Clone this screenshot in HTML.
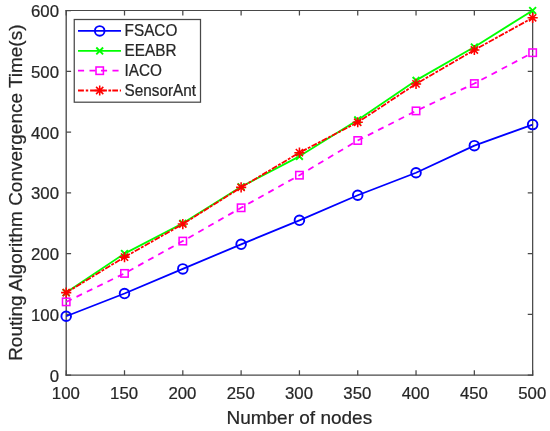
<!DOCTYPE html><html><head><meta charset="utf-8"><title>Routing Algorithm Convergence Time</title>
<style>html,body{margin:0;padding:0;background:#fff}svg{display:block}text{font-family:"Liberation Sans",Arial,Helvetica,sans-serif;fill:#262626;stroke:#262626;stroke-width:0.22px}</style></head><body>
<svg width="550" height="431" viewBox="0 0 550 431">
<rect width="550" height="431" fill="#fff"/>
<path d="M65.54 10.5 H533.27" stroke="#484848" stroke-width="1" fill="none"/>
<path d="M65.54 375.15 H533.27" stroke="#484848" stroke-width="1.35" fill="none"/>
<path d="M66.2 10 V375.82" stroke="#484848" stroke-width="1.33" fill="none"/>
<path d="M532.65 10 V375.82" stroke="#484848" stroke-width="1.25" fill="none"/>
<path d="M66.20 375.15 V370.25 M66.20 10.5 V15.4" stroke="#484848" stroke-width="1.25" fill="none"/>
<text x="65.80" y="399.3" font-size="16.8" text-anchor="middle">100</text>
<path d="M124.51 375.15 V370.25 M124.51 10.5 V15.4" stroke="#484848" stroke-width="1.25" fill="none"/>
<text x="124.11" y="399.3" font-size="16.8" text-anchor="middle">150</text>
<path d="M182.81 375.15 V370.25 M182.81 10.5 V15.4" stroke="#484848" stroke-width="1.25" fill="none"/>
<text x="182.41" y="399.3" font-size="16.8" text-anchor="middle">200</text>
<path d="M241.12 375.15 V370.25 M241.12 10.5 V15.4" stroke="#484848" stroke-width="1.25" fill="none"/>
<text x="240.72" y="399.3" font-size="16.8" text-anchor="middle">250</text>
<path d="M299.43 375.15 V370.25 M299.43 10.5 V15.4" stroke="#484848" stroke-width="1.25" fill="none"/>
<text x="299.03" y="399.3" font-size="16.8" text-anchor="middle">300</text>
<path d="M357.73 375.15 V370.25 M357.73 10.5 V15.4" stroke="#484848" stroke-width="1.25" fill="none"/>
<text x="357.33" y="399.3" font-size="16.8" text-anchor="middle">350</text>
<path d="M416.04 375.15 V370.25 M416.04 10.5 V15.4" stroke="#484848" stroke-width="1.25" fill="none"/>
<text x="415.64" y="399.3" font-size="16.8" text-anchor="middle">400</text>
<path d="M474.34 375.15 V370.25 M474.34 10.5 V15.4" stroke="#484848" stroke-width="1.25" fill="none"/>
<text x="473.94" y="399.3" font-size="16.8" text-anchor="middle">450</text>
<path d="M532.65 375.15 V370.25 M532.65 10.5 V15.4" stroke="#484848" stroke-width="1.25" fill="none"/>
<text x="532.25" y="399.3" font-size="16.8" text-anchor="middle">500</text>
<path d="M66.2 375.15 H71.1 M532.65 375.15 H527.75" stroke="#484848" stroke-width="1.25" fill="none"/>
<text x="59.0" y="381.60" font-size="16.8" text-anchor="end">0</text>
<path d="M66.2 314.38 H71.1 M532.65 314.38 H527.75" stroke="#484848" stroke-width="1.25" fill="none"/>
<text x="59.0" y="320.85" font-size="16.8" text-anchor="end">100</text>
<path d="M66.2 253.60 H71.1 M532.65 253.60 H527.75" stroke="#484848" stroke-width="1.25" fill="none"/>
<text x="59.0" y="260.10" font-size="16.8" text-anchor="end">200</text>
<path d="M66.2 192.82 H71.1 M532.65 192.82 H527.75" stroke="#484848" stroke-width="1.25" fill="none"/>
<text x="59.0" y="199.35" font-size="16.8" text-anchor="end">300</text>
<path d="M66.2 132.05 H71.1 M532.65 132.05 H527.75" stroke="#484848" stroke-width="1.25" fill="none"/>
<text x="59.0" y="138.60" font-size="16.8" text-anchor="end">400</text>
<path d="M66.2 71.27 H71.1 M532.65 71.27 H527.75" stroke="#484848" stroke-width="1.25" fill="none"/>
<text x="59.0" y="77.85" font-size="16.8" text-anchor="end">500</text>
<path d="M66.2 10.50 H71.1 M532.65 10.50 H527.75" stroke="#484848" stroke-width="1.25" fill="none"/>
<text x="59.0" y="17.10" font-size="16.8" text-anchor="end">600</text>
<text x="299.3" y="424.2" font-size="19.0" text-anchor="middle">Number of nodes</text>
<text transform="translate(21.9,192.7) rotate(-90)" font-size="18.98" text-anchor="middle">Routing Algorithm Convergence Time(s)</text>
<polyline points="66.20,316.26 124.51,293.53 182.81,268.92 241.12,244.30 299.43,220.30 357.73,195.26 416.04,172.77 474.34,145.66 532.65,124.57" fill="none" stroke="#0000ff" stroke-width="1.8" stroke-linejoin="round"/>
<circle cx="66.20" cy="316.26" r="4.8" fill="none" stroke="#0000ff" stroke-width="1.9"/>
<circle cx="124.51" cy="293.53" r="4.8" fill="none" stroke="#0000ff" stroke-width="1.9"/>
<circle cx="182.81" cy="268.92" r="4.8" fill="none" stroke="#0000ff" stroke-width="1.9"/>
<circle cx="241.12" cy="244.30" r="4.8" fill="none" stroke="#0000ff" stroke-width="1.9"/>
<circle cx="299.43" cy="220.30" r="4.8" fill="none" stroke="#0000ff" stroke-width="1.9"/>
<circle cx="357.73" cy="195.26" r="4.8" fill="none" stroke="#0000ff" stroke-width="1.9"/>
<circle cx="416.04" cy="172.77" r="4.8" fill="none" stroke="#0000ff" stroke-width="1.9"/>
<circle cx="474.34" cy="145.66" r="4.8" fill="none" stroke="#0000ff" stroke-width="1.9"/>
<circle cx="532.65" cy="124.57" r="4.8" fill="none" stroke="#0000ff" stroke-width="1.9"/>
<polyline points="66.20,292.62 124.51,253.60 182.81,223.21 241.12,186.75 299.43,156.36 357.73,119.90 416.04,80.39 474.34,46.96 532.65,10.50" fill="none" stroke="#00ff00" stroke-width="1.8" stroke-linejoin="round"/>
<path d="M62.80 289.22 l6.8 6.8 M62.80 296.02 l6.8 -6.8" stroke="#00ff00" stroke-width="1.9" fill="none"/>
<path d="M121.11 250.20 l6.8 6.8 M121.11 257.00 l6.8 -6.8" stroke="#00ff00" stroke-width="1.9" fill="none"/>
<path d="M179.41 219.81 l6.8 6.8 M179.41 226.61 l6.8 -6.8" stroke="#00ff00" stroke-width="1.9" fill="none"/>
<path d="M237.72 183.35 l6.8 6.8 M237.72 190.15 l6.8 -6.8" stroke="#00ff00" stroke-width="1.9" fill="none"/>
<path d="M296.03 152.96 l6.8 6.8 M296.03 159.76 l6.8 -6.8" stroke="#00ff00" stroke-width="1.9" fill="none"/>
<path d="M354.33 116.50 l6.8 6.8 M354.33 123.30 l6.8 -6.8" stroke="#00ff00" stroke-width="1.9" fill="none"/>
<path d="M412.64 76.99 l6.8 6.8 M412.64 83.79 l6.8 -6.8" stroke="#00ff00" stroke-width="1.9" fill="none"/>
<path d="M470.94 43.56 l6.8 6.8 M470.94 50.36 l6.8 -6.8" stroke="#00ff00" stroke-width="1.9" fill="none"/>
<path d="M529.25 7.10 l6.8 6.8 M529.25 13.90 l6.8 -6.8" stroke="#00ff00" stroke-width="1.9" fill="none"/>
<polyline points="66.20,301.86 124.51,273.41 182.81,241.08 241.12,207.78 299.43,175.20 357.73,140.50 416.04,110.90 474.34,83.55 532.65,52.68" fill="none" stroke="#ff00ff" stroke-width="1.8" stroke-linejoin="round" stroke-dasharray="6.1 5.39"/>
<rect x="62.50" y="298.16" width="7.4" height="7.4" fill="none" stroke="#ff00ff" stroke-width="1.55"/>
<rect x="120.81" y="269.71" width="7.4" height="7.4" fill="none" stroke="#ff00ff" stroke-width="1.55"/>
<rect x="179.11" y="237.38" width="7.4" height="7.4" fill="none" stroke="#ff00ff" stroke-width="1.55"/>
<rect x="237.42" y="204.08" width="7.4" height="7.4" fill="none" stroke="#ff00ff" stroke-width="1.55"/>
<rect x="295.73" y="171.50" width="7.4" height="7.4" fill="none" stroke="#ff00ff" stroke-width="1.55"/>
<rect x="354.03" y="136.80" width="7.4" height="7.4" fill="none" stroke="#ff00ff" stroke-width="1.55"/>
<rect x="412.34" y="107.20" width="7.4" height="7.4" fill="none" stroke="#ff00ff" stroke-width="1.55"/>
<rect x="470.64" y="79.85" width="7.4" height="7.4" fill="none" stroke="#ff00ff" stroke-width="1.55"/>
<rect x="528.95" y="48.98" width="7.4" height="7.4" fill="none" stroke="#ff00ff" stroke-width="1.55"/>
<polyline points="66.20,292.62 124.51,257.12 182.81,224.06 241.12,187.36 299.43,152.65 357.73,122.27 416.04,83.92 474.34,50.00 532.65,17.79" fill="none" stroke="#ff0000" stroke-width="1.8" stroke-linejoin="round" stroke-dasharray="5.9 1.3 2.9 1.33"/>
<path d="M61.10 292.62 h10.2 M66.20 287.52 v10.2 M62.59 289.01 l7.21242 7.21242 M62.59 296.22 l7.21242 -7.21242" stroke="#ff0000" stroke-width="1.55" fill="none"/>
<path d="M119.41 257.12 h10.2 M124.51 252.02 v10.2 M120.90 253.52 l7.21242 7.21242 M120.90 260.73 l7.21242 -7.21242" stroke="#ff0000" stroke-width="1.55" fill="none"/>
<path d="M177.71 224.06 h10.2 M182.81 218.96 v10.2 M179.21 220.46 l7.21242 7.21242 M179.21 227.67 l7.21242 -7.21242" stroke="#ff0000" stroke-width="1.55" fill="none"/>
<path d="M236.02 187.36 h10.2 M241.12 182.26 v10.2 M237.51 183.75 l7.21242 7.21242 M237.51 190.96 l7.21242 -7.21242" stroke="#ff0000" stroke-width="1.55" fill="none"/>
<path d="M294.32 152.65 h10.2 M299.43 147.55 v10.2 M295.82 149.05 l7.21242 7.21242 M295.82 156.26 l7.21242 -7.21242" stroke="#ff0000" stroke-width="1.55" fill="none"/>
<path d="M352.63 122.27 h10.2 M357.73 117.17 v10.2 M354.13 118.66 l7.21242 7.21242 M354.13 125.87 l7.21242 -7.21242" stroke="#ff0000" stroke-width="1.55" fill="none"/>
<path d="M410.94 83.92 h10.2 M416.04 78.82 v10.2 M412.43 80.31 l7.21242 7.21242 M412.43 87.52 l7.21242 -7.21242" stroke="#ff0000" stroke-width="1.55" fill="none"/>
<path d="M469.24 50.00 h10.2 M474.34 44.90 v10.2 M470.74 46.40 l7.21242 7.21242 M470.74 53.61 l7.21242 -7.21242" stroke="#ff0000" stroke-width="1.55" fill="none"/>
<path d="M527.55 17.79 h10.2 M532.65 12.69 v10.2 M529.04 14.19 l7.21242 7.21242 M529.04 21.40 l7.21242 -7.21242" stroke="#ff0000" stroke-width="1.55" fill="none"/>
<rect x="74.25" y="19.5" width="126.25" height="82.7" fill="#fff" stroke="#484848" stroke-width="1.25"/>
<path d="M78 30.90 H121" stroke="#0000ff" stroke-width="1.8" fill="none"/>
<circle cx="99.70" cy="30.90" r="4.8" fill="none" stroke="#0000ff" stroke-width="1.9"/>
<text transform="translate(124.6,36.30) scale(0.975,1)" font-size="15.7">FSACO</text>
<path d="M78 50.90 H121" stroke="#00ff00" stroke-width="1.8" fill="none"/>
<path d="M96.30 47.50 l6.8 6.8 M96.30 54.30 l6.8 -6.8" stroke="#00ff00" stroke-width="1.9" fill="none"/>
<text transform="translate(124.6,56.30) scale(0.975,1)" font-size="15.7">EEABR</text>
<path d="M78 70.70 H121" stroke="#ff00ff" stroke-width="1.8" fill="none" stroke-dasharray="6.1 5.39"/>
<rect x="96.00" y="67.00" width="7.4" height="7.4" fill="none" stroke="#ff00ff" stroke-width="1.55"/>
<text transform="translate(124.6,76.10) scale(0.975,1)" font-size="15.7">IACO</text>
<path d="M78 90.5 H83.9 M85.8 90.5 H88.2 M90.1 90.5 H106.9 M108.4 90.5 H111.1 M112.3 90.5 H118 M119.8 90.5 H121" stroke="#ff0000" stroke-width="1.8" fill="none"/>
<path d="M94.60 90.50 h10.2 M99.70 85.40 v10.2 M96.09 86.89 l7.21242 7.21242 M96.09 94.11 l7.21242 -7.21242" stroke="#ff0000" stroke-width="1.55" fill="none"/>
<text transform="translate(124.6,95.90) scale(0.975,1)" font-size="15.7">SensorAnt</text>
</svg></body></html>
